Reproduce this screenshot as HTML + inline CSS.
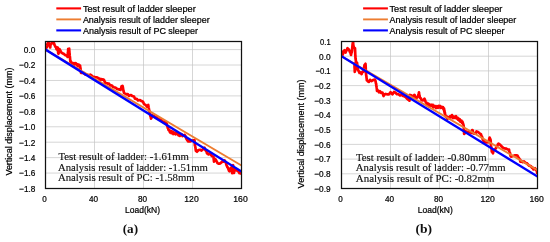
<!DOCTYPE html>
<html><head><meta charset="utf-8"><title>Figure</title>
<style>html,body{margin:0;padding:0;background:#fff}svg{display:block}</style></head>
<body>
<svg width="550" height="242" viewBox="0 0 550 242">
<rect width="550" height="242" fill="#fff"/>
<line x1="45.5" y1="49.60" x2="241.5" y2="49.60" stroke="#c4c4c4" stroke-width="0.7"/>
<line x1="45.5" y1="65.03" x2="241.5" y2="65.03" stroke="#c4c4c4" stroke-width="0.7"/>
<line x1="45.5" y1="80.47" x2="241.5" y2="80.47" stroke="#c4c4c4" stroke-width="0.7"/>
<line x1="45.5" y1="95.90" x2="241.5" y2="95.90" stroke="#c4c4c4" stroke-width="0.7"/>
<line x1="45.5" y1="111.33" x2="241.5" y2="111.33" stroke="#c4c4c4" stroke-width="0.7"/>
<line x1="45.5" y1="126.77" x2="241.5" y2="126.77" stroke="#c4c4c4" stroke-width="0.7"/>
<line x1="45.5" y1="142.20" x2="241.5" y2="142.20" stroke="#c4c4c4" stroke-width="0.7"/>
<line x1="45.5" y1="157.63" x2="241.5" y2="157.63" stroke="#c4c4c4" stroke-width="0.7"/>
<line x1="45.5" y1="173.07" x2="241.5" y2="173.07" stroke="#c4c4c4" stroke-width="0.7"/>
<line x1="94.50" y1="41.5" x2="94.50" y2="188.5" stroke="#c4c4c4" stroke-width="0.7"/>
<line x1="143.50" y1="41.5" x2="143.50" y2="188.5" stroke="#c4c4c4" stroke-width="0.7"/>
<line x1="192.50" y1="41.5" x2="192.50" y2="188.5" stroke="#c4c4c4" stroke-width="0.7"/>
<text x="58.5" y="160" style="font-family:'Liberation Serif','Times New Roman',serif;font-size:11.2px;stroke:#111;stroke-width:0.15px" fill="#111" textLength="130.4" lengthAdjust="spacingAndGlyphs">Test result of ladder: -1.61mm</text>
<text x="57.9" y="170.5" style="font-family:'Liberation Serif','Times New Roman',serif;font-size:11.2px;stroke:#111;stroke-width:0.15px" fill="#111" textLength="150.0" lengthAdjust="spacingAndGlyphs">Analysis result of ladder: -1.51mm</text>
<text x="57.9" y="181.2" style="font-family:'Liberation Serif','Times New Roman',serif;font-size:11.2px;stroke:#111;stroke-width:0.15px" fill="#111" textLength="136.8" lengthAdjust="spacingAndGlyphs">Analysis result of PC: -1.58mm</text>
<clipPath id="clipa"><rect x="45.5" y="41.5" width="196.0" height="147.0"/></clipPath><g clip-path="url(#clipa)">
<polyline points="45.60,49.50 46.50,47.38 46.83,47.26 47.17,45.78 47.50,43.58 48.50,42.49 49.00,43.66 49.50,45.26 50.20,47.49 50.47,45.14 50.73,43.86 51.00,44.07 52.50,41.89 53.50,43.45 54.00,43.15 54.50,44.91 55.50,46.88 56.00,47.04 56.50,49.26 57.50,47.68 57.67,47.54 57.83,48.86 58.00,51.07 58.25,53.25 58.50,53.80 58.75,52.39 59.00,51.62 59.25,49.82 59.50,49.03 60.50,50.89 61.00,51.99 61.50,52.55 63.00,53.54 64.00,54.02 65.00,54.93 66.50,55.64 67.50,56.69 67.60,56.93 67.70,55.31 67.80,54.31 67.90,52.39 68.00,52.62 68.10,51.25 68.20,48.86 69.20,48.72 69.30,50.54 69.40,51.69 69.50,53.24 69.60,53.53 69.70,55.39 69.80,56.29 69.94,56.87 70.08,58.55 70.22,60.25 70.36,61.39 70.50,62.01 71.00,61.67 71.50,63.54 72.00,62.85 72.50,64.94 73.33,63.26 74.17,64.62 75.00,63.19 76.00,63.36 77.00,65.38 77.50,64.28 78.00,66.26 78.50,65.21 79.25,64.82 80.00,66.30 80.10,65.47 80.20,67.68 80.30,67.06 80.40,68.85 80.50,68.11 80.67,71.15 80.83,71.83 81.00,72.82 82.50,72.59 84.00,73.30 85.33,74.62 86.67,74.76 88.00,74.87 89.17,75.58 90.33,74.68 91.50,75.32 92.75,76.82 94.00,76.93 95.50,77.23 97.00,77.41 99.00,78.38 100.00,79.83 101.00,78.96 102.00,79.78 103.00,79.34 104.00,79.96 104.50,81.21 105.00,82.83 106.00,82.83 107.00,83.40 108.00,83.67 109.00,83.55 110.00,85.43 111.00,85.42 112.00,85.54 113.00,86.81 114.00,87.27 115.00,87.56 116.00,88.04 117.00,88.87 119.00,89.51 120.50,89.99 121.00,88.48 121.50,86.50 122.50,85.84 122.83,87.08 123.17,89.11 123.50,90.91 124.00,92.81 125.25,93.56 126.50,94.34 127.75,94.13 129.00,95.88 130.50,95.09 131.25,95.09 132.00,95.98 134.00,96.47 135.00,98.73 136.00,98.87 137.00,99.14 138.00,100.51 140.00,100.04 141.50,101.07 143.00,101.72 143.75,103.60 144.50,104.24 145.75,105.16 147.00,106.66 148.20,104.92 148.40,105.95 148.60,107.46 148.80,107.94 149.00,109.81 149.33,111.20 149.67,112.14 150.00,113.33 150.25,115.80 150.50,116.27 150.75,116.88 151.00,118.68 151.50,117.79 152.00,115.19 153.33,115.68 154.67,116.40 156.00,117.87 157.00,117.42 158.00,118.85 159.00,119.30 160.00,119.58 161.00,119.53 162.00,121.31 163.00,121.51 164.00,121.53 165.25,121.78 166.50,123.25 166.83,124.15 167.17,125.80 167.50,126.70 167.83,128.36 168.17,128.52 168.50,130.06 169.25,129.77 170.00,132.48 170.67,130.98 171.33,133.14 172.00,131.65 172.67,131.62 173.33,134.07 174.00,132.59 174.83,132.85 175.67,134.31 176.50,132.82 177.50,133.55 178.50,135.45 179.17,133.61 179.83,135.97 180.50,134.73 181.50,134.13 182.50,136.13 184.50,134.85 185.00,135.52 185.50,136.29 186.00,137.74 186.50,139.00 188.00,141.30 189.00,141.39 190.00,141.48 192.00,140.83 193.50,140.28 194.50,140.15 194.60,141.60 194.70,142.40 194.80,144.43 194.90,145.58 195.00,145.18 195.25,146.62 195.50,147.96 195.75,150.20 196.00,150.98 197.00,151.73 198.50,150.01 200.00,149.80 201.50,150.57 203.00,149.23 204.50,147.73 205.25,149.90 206.00,150.82 206.50,151.47 207.00,153.33 207.50,153.05 208.50,154.38 209.50,153.79 210.75,154.44 212.00,156.20 213.50,156.51 213.67,158.77 213.83,159.84 214.00,161.58 215.50,159.28 216.00,160.23 216.50,161.15 217.50,163.12 218.50,163.68 219.50,163.77 220.50,163.16 222.50,161.38 223.50,161.59 224.50,160.33 225.17,161.38 225.83,162.61 226.50,165.12 227.00,166.16 227.50,167.39 228.00,167.73 228.50,169.36 229.00,170.81 229.50,171.29 230.00,170.37 230.50,168.53 231.50,167.29 231.68,168.73 231.85,170.91 232.02,171.48 232.20,173.22 232.33,171.18 232.47,169.62 232.60,169.24 232.73,168.06 232.87,165.42 233.00,165.29 233.14,165.45 233.29,166.63 233.43,169.08 233.57,168.79 233.71,170.27 233.86,172.69 234.00,172.87 234.33,171.01 234.67,169.77 235.00,168.56 236.50,170.41 238.00,170.82 239.50,173.20 240.50,172.79 241.50,174.30" fill="none" stroke="#ff0000" stroke-width="2.7" stroke-linejoin="round"/>
<line x1="45.5" y1="49.6" x2="241.5" y2="165.5" stroke="#ed7d31" stroke-width="1.9"/>
<line x1="45.5" y1="49.6" x2="241.5" y2="171.5" stroke="#0000ff" stroke-width="2.4"/></g>
<rect x="45.5" y="41.5" width="196.0" height="147.0" fill="none" stroke="#111" stroke-width="1.25"/>
<text x="35.4" y="52.90" text-anchor="end" style="font-family:'Liberation Sans',Arial,sans-serif;font-size:9px;stroke:#000;stroke-width:0.22px" fill="#000" textLength="11.6" lengthAdjust="spacingAndGlyphs">0.0</text>
<text x="35.4" y="68.33" text-anchor="end" style="font-family:'Liberation Sans',Arial,sans-serif;font-size:9px;stroke:#000;stroke-width:0.22px" fill="#000" textLength="16.3" lengthAdjust="spacingAndGlyphs">−0.2</text>
<text x="35.4" y="83.77" text-anchor="end" style="font-family:'Liberation Sans',Arial,sans-serif;font-size:9px;stroke:#000;stroke-width:0.22px" fill="#000" textLength="16.3" lengthAdjust="spacingAndGlyphs">−0.4</text>
<text x="35.4" y="99.20" text-anchor="end" style="font-family:'Liberation Sans',Arial,sans-serif;font-size:9px;stroke:#000;stroke-width:0.22px" fill="#000" textLength="16.3" lengthAdjust="spacingAndGlyphs">−0.6</text>
<text x="35.4" y="114.63" text-anchor="end" style="font-family:'Liberation Sans',Arial,sans-serif;font-size:9px;stroke:#000;stroke-width:0.22px" fill="#000" textLength="16.3" lengthAdjust="spacingAndGlyphs">−0.8</text>
<text x="35.4" y="130.07" text-anchor="end" style="font-family:'Liberation Sans',Arial,sans-serif;font-size:9px;stroke:#000;stroke-width:0.22px" fill="#000" textLength="16.3" lengthAdjust="spacingAndGlyphs">−1.0</text>
<text x="35.4" y="145.50" text-anchor="end" style="font-family:'Liberation Sans',Arial,sans-serif;font-size:9px;stroke:#000;stroke-width:0.22px" fill="#000" textLength="16.3" lengthAdjust="spacingAndGlyphs">−1.2</text>
<text x="35.4" y="160.93" text-anchor="end" style="font-family:'Liberation Sans',Arial,sans-serif;font-size:9px;stroke:#000;stroke-width:0.22px" fill="#000" textLength="16.3" lengthAdjust="spacingAndGlyphs">−1.4</text>
<text x="35.4" y="176.37" text-anchor="end" style="font-family:'Liberation Sans',Arial,sans-serif;font-size:9px;stroke:#000;stroke-width:0.22px" fill="#000" textLength="16.3" lengthAdjust="spacingAndGlyphs">−1.6</text>
<text x="35.4" y="191.80" text-anchor="end" style="font-family:'Liberation Sans',Arial,sans-serif;font-size:9px;stroke:#000;stroke-width:0.22px" fill="#000" textLength="16.3" lengthAdjust="spacingAndGlyphs">−1.8</text>
<text x="44.50" y="202.4" text-anchor="middle" style="font-family:'Liberation Sans',Arial,sans-serif;font-size:9px;stroke:#000;stroke-width:0.22px" fill="#000" textLength="4.5" lengthAdjust="spacingAndGlyphs">0</text>
<text x="93.50" y="202.4" text-anchor="middle" style="font-family:'Liberation Sans',Arial,sans-serif;font-size:9px;stroke:#000;stroke-width:0.22px" fill="#000" textLength="9.1" lengthAdjust="spacingAndGlyphs">40</text>
<text x="142.50" y="202.4" text-anchor="middle" style="font-family:'Liberation Sans',Arial,sans-serif;font-size:9px;stroke:#000;stroke-width:0.22px" fill="#000" textLength="9.1" lengthAdjust="spacingAndGlyphs">80</text>
<text x="191.50" y="202.4" text-anchor="middle" style="font-family:'Liberation Sans',Arial,sans-serif;font-size:9px;stroke:#000;stroke-width:0.22px" fill="#000" textLength="14.4" lengthAdjust="spacingAndGlyphs">120</text>
<text x="240.50" y="202.4" text-anchor="middle" style="font-family:'Liberation Sans',Arial,sans-serif;font-size:9px;stroke:#000;stroke-width:0.22px" fill="#000" textLength="14.4" lengthAdjust="spacingAndGlyphs">160</text>
<text x="142.5" y="213.2" text-anchor="middle" style="font-family:'Liberation Sans',Arial,sans-serif;font-size:9px;stroke:#000;stroke-width:0.22px" fill="#000" textLength="35" lengthAdjust="spacingAndGlyphs">Load(kN)</text>
<text transform="translate(11.6,121.6) rotate(-90)" text-anchor="middle" style="font-family:'Liberation Sans',Arial,sans-serif;font-size:9px;stroke:#000;stroke-width:0.22px" fill="#000" textLength="108" lengthAdjust="spacingAndGlyphs">Vertical displacement (mm)</text>
<line x1="56.3" y1="8.4" x2="81.1" y2="8.4" stroke="#ff0000" stroke-width="2.1"/>
<text x="82.9" y="11.60" style="font-family:'Liberation Sans',Arial,sans-serif;font-size:9px;stroke:#000;stroke-width:0.22px" fill="#000" textLength="112.8" lengthAdjust="spacingAndGlyphs">Test result of ladder sleeper</text>
<line x1="56.3" y1="19.4" x2="81.1" y2="19.4" stroke="#ed7d31" stroke-width="1.9"/>
<text x="82.9" y="22.60" style="font-family:'Liberation Sans',Arial,sans-serif;font-size:9px;stroke:#000;stroke-width:0.22px" fill="#000" textLength="126.8" lengthAdjust="spacingAndGlyphs">Analysis result of ladder sleeper</text>
<line x1="56.3" y1="30.4" x2="81.1" y2="30.4" stroke="#0000ff" stroke-width="2.1"/>
<text x="82.9" y="33.60" style="font-family:'Liberation Sans',Arial,sans-serif;font-size:9px;stroke:#000;stroke-width:0.22px" fill="#000" textLength="115.0" lengthAdjust="spacingAndGlyphs">Analysis result of PC sleeper</text>
<text x="122.70" y="233" style="font-family:'Liberation Serif',serif;font-size:13px;font-weight:bold" fill="#111" textLength="15.4" lengthAdjust="spacingAndGlyphs">(a)</text>
<line x1="341.5" y1="56.20" x2="537.5" y2="56.20" stroke="#c4c4c4" stroke-width="0.7"/>
<line x1="341.5" y1="70.90" x2="537.5" y2="70.90" stroke="#c4c4c4" stroke-width="0.7"/>
<line x1="341.5" y1="85.60" x2="537.5" y2="85.60" stroke="#c4c4c4" stroke-width="0.7"/>
<line x1="341.5" y1="100.30" x2="537.5" y2="100.30" stroke="#c4c4c4" stroke-width="0.7"/>
<line x1="341.5" y1="115.00" x2="537.5" y2="115.00" stroke="#c4c4c4" stroke-width="0.7"/>
<line x1="341.5" y1="129.70" x2="537.5" y2="129.70" stroke="#c4c4c4" stroke-width="0.7"/>
<line x1="341.5" y1="144.40" x2="537.5" y2="144.40" stroke="#c4c4c4" stroke-width="0.7"/>
<line x1="341.5" y1="159.10" x2="537.5" y2="159.10" stroke="#c4c4c4" stroke-width="0.7"/>
<line x1="341.5" y1="173.80" x2="537.5" y2="173.80" stroke="#c4c4c4" stroke-width="0.7"/>
<line x1="390.50" y1="41.5" x2="390.50" y2="188.5" stroke="#c4c4c4" stroke-width="0.7"/>
<line x1="439.50" y1="41.5" x2="439.50" y2="188.5" stroke="#c4c4c4" stroke-width="0.7"/>
<line x1="488.50" y1="41.5" x2="488.50" y2="188.5" stroke="#c4c4c4" stroke-width="0.7"/>
<text x="355.9" y="160.5" style="font-family:'Liberation Serif','Times New Roman',serif;font-size:11.2px;stroke:#111;stroke-width:0.15px" fill="#111" textLength="130.8" lengthAdjust="spacingAndGlyphs">Test result of ladder: -0.80mm</text>
<text x="355.8" y="171.3" style="font-family:'Liberation Serif','Times New Roman',serif;font-size:11.2px;stroke:#111;stroke-width:0.15px" fill="#111" textLength="149.8" lengthAdjust="spacingAndGlyphs">Analysis result of ladder: -0.77mm</text>
<text x="355.8" y="182" style="font-family:'Liberation Serif','Times New Roman',serif;font-size:11.2px;stroke:#111;stroke-width:0.15px" fill="#111" textLength="138.6" lengthAdjust="spacingAndGlyphs">Analysis result of PC: -0.82mm</text>
<clipPath id="clipb"><rect x="341.5" y="41.5" width="196.0" height="147.0"/></clipPath><g clip-path="url(#clipb)">
<polyline points="342.00,55.50 342.47,55.11 342.93,53.93 343.40,51.25 344.50,50.29 345.50,52.57 346.17,51.23 346.83,49.96 347.50,48.17 349.00,49.68 349.50,50.93 350.00,52.14 350.50,52.92 351.00,54.88 351.25,53.57 351.50,52.88 351.75,52.09 352.00,50.76 352.14,48.93 352.29,47.62 352.43,46.18 352.57,44.64 352.71,43.48 352.86,43.08 353.00,41.69 353.16,43.00 353.32,45.07 353.48,45.64 353.64,46.90 353.80,47.55 355.00,48.19 355.06,49.83 355.12,50.63 355.19,52.39 355.25,54.35 355.31,54.92 355.38,55.21 355.44,57.54 355.50,58.50 355.75,59.90 356.00,61.69 355.50,62.78 355.00,64.16 354.50,64.75 354.56,67.12 354.62,68.39 354.68,68.32 354.74,70.63 354.80,71.87 355.04,70.33 355.28,69.35 355.52,68.18 355.76,67.82 356.00,66.00 356.33,65.23 356.67,63.09 357.00,62.65 357.11,63.82 357.23,64.22 357.34,65.54 357.46,67.29 357.57,68.09 357.69,68.83 357.80,69.53 358.65,70.95 359.50,72.84 360.50,72.43 361.50,74.19 362.50,71.86 363.50,71.70 363.70,69.48 363.90,69.38 364.10,67.75 364.30,66.21 364.50,65.03 365.50,63.76 365.56,64.84 365.62,65.56 365.69,66.57 365.75,68.27 365.81,70.18 365.88,70.83 365.94,71.09 366.00,73.54 366.13,74.55 366.27,76.03 366.40,75.98 366.53,78.08 366.67,78.08 366.80,80.26 367.40,80.61 368.00,81.54 369.00,81.89 370.00,79.83 371.50,81.04 373.00,80.10 375.00,79.57 375.50,81.01 376.00,83.65 376.17,84.20 376.33,86.04 376.50,86.20 376.67,87.93 376.83,88.78 377.00,90.79 378.00,90.29 379.00,92.27 380.00,91.19 381.00,92.89 382.50,92.69 383.00,94.08 383.50,96.03 384.50,94.42 385.50,93.96 387.50,94.33 389.00,94.31 390.50,92.22 392.50,94.33 394.00,91.91 395.50,92.71 397.00,94.24 398.50,94.20 400.00,95.41 402.00,94.84 403.00,95.97 404.00,96.20 406.00,97.41 407.00,98.70 408.00,99.41 409.50,100.68 409.62,99.18 409.75,98.12 409.88,96.60 410.00,94.95 411.25,95.28 412.50,96.77 413.50,95.69 414.50,94.82 415.25,96.66 416.00,98.64 417.50,96.87 417.88,96.52 418.25,95.07 418.62,94.15 419.00,92.39 419.25,95.03 419.50,95.09 419.75,96.93 420.00,97.86 420.75,98.18 421.50,100.10 423.00,100.39 424.50,98.75 425.00,99.97 425.50,101.46 426.00,102.61 426.67,102.78 427.33,105.24 428.00,103.56 428.67,103.92 429.33,106.71 430.00,105.03 431.00,104.65 432.00,106.08 432.67,104.81 433.33,107.32 434.00,105.67 435.00,105.98 436.00,108.09 437.00,106.16 438.00,107.75 438.75,105.92 439.50,106.95 440.00,105.92 440.50,107.99 441.00,106.72 441.75,106.77 442.50,107.99 443.00,107.23 443.50,109.40 444.00,108.54 444.16,109.09 444.32,111.70 444.48,110.70 444.64,113.29 444.80,112.24 445.20,114.92 445.60,116.25 446.00,117.09 446.67,116.34 447.33,118.61 448.00,117.25 448.67,117.24 449.33,118.38 450.00,116.28 450.67,116.16 451.33,117.19 452.00,115.12 452.50,115.88 453.00,118.11 453.50,116.55 454.25,116.48 455.00,117.97 456.00,116.26 457.00,118.52 457.50,117.59 458.00,119.71 458.50,118.54 459.00,120.48 459.67,119.10 460.33,121.70 461.00,120.59 461.50,120.83 462.00,123.05 462.50,121.81 463.00,123.35 463.50,125.15 463.65,125.78 463.80,127.63 463.88,129.08 463.96,131.34 464.04,131.18 464.12,133.63 464.20,133.98 464.85,133.12 465.50,131.32 466.75,131.69 468.00,132.43 470.00,132.32 471.50,132.86 471.83,131.52 472.17,130.12 472.50,130.10 472.83,130.91 473.17,132.61 473.50,133.33 475.00,133.69 475.50,133.60 476.00,132.64 476.50,131.38 478.00,132.00 479.50,133.26 481.00,134.43 481.50,136.26 482.00,136.61 482.50,138.54 483.00,139.96 484.50,142.27 486.50,142.52 488.50,142.23 488.87,140.90 489.23,138.82 489.60,137.54 490.50,139.48 490.62,140.34 490.73,141.88 490.85,143.55 490.97,145.21 491.08,145.90 491.20,147.54 491.40,147.56 491.60,149.26 491.80,151.60 492.00,151.40 493.00,153.36 493.33,151.43 493.67,150.13 494.00,150.17 495.50,148.83 497.00,146.75 497.75,144.62 498.50,143.65 500.00,144.54 501.50,146.29 503.00,147.81 504.50,148.40 506.00,148.54 507.50,149.34 509.00,149.57 509.33,151.60 509.67,152.60 510.00,152.81 510.33,154.69 510.67,156.20 511.00,156.59 512.50,156.17 514.50,155.43 516.50,155.35 517.50,155.59 518.50,157.34 519.00,158.15 519.50,158.96 520.00,159.40 520.25,161.15 520.50,161.70 521.50,161.16 522.75,162.15 524.00,161.46 525.00,162.52 526.00,162.97 527.00,163.34 528.00,164.52 529.00,165.58 530.00,165.85 531.00,166.20 532.00,167.79 532.75,167.71 533.50,169.42 535.00,168.27 535.75,169.44 536.50,170.60 536.83,170.87 537.17,172.87 537.50,173.83" fill="none" stroke="#ff0000" stroke-width="2.7" stroke-linejoin="round"/>
<line x1="341.5" y1="56.2" x2="537.5" y2="170.2" stroke="#ed7d31" stroke-width="1.9"/>
<line x1="341.5" y1="56.2" x2="537.5" y2="176.6" stroke="#0000ff" stroke-width="2.4"/></g>
<rect x="341.5" y="41.5" width="196.0" height="147.0" fill="none" stroke="#111" stroke-width="1.25"/>
<text x="330.6" y="44.80" text-anchor="end" style="font-family:'Liberation Sans',Arial,sans-serif;font-size:9px;stroke:#000;stroke-width:0.22px" fill="#000" textLength="10.5" lengthAdjust="spacingAndGlyphs">0.1</text>
<text x="330.6" y="59.50" text-anchor="end" style="font-family:'Liberation Sans',Arial,sans-serif;font-size:9px;stroke:#000;stroke-width:0.22px" fill="#000" textLength="11.6" lengthAdjust="spacingAndGlyphs">0.0</text>
<text x="330.6" y="74.20" text-anchor="end" style="font-family:'Liberation Sans',Arial,sans-serif;font-size:9px;stroke:#000;stroke-width:0.22px" fill="#000" textLength="15.2" lengthAdjust="spacingAndGlyphs">−0.1</text>
<text x="330.6" y="88.90" text-anchor="end" style="font-family:'Liberation Sans',Arial,sans-serif;font-size:9px;stroke:#000;stroke-width:0.22px" fill="#000" textLength="16.3" lengthAdjust="spacingAndGlyphs">−0.2</text>
<text x="330.6" y="103.60" text-anchor="end" style="font-family:'Liberation Sans',Arial,sans-serif;font-size:9px;stroke:#000;stroke-width:0.22px" fill="#000" textLength="16.3" lengthAdjust="spacingAndGlyphs">−0.3</text>
<text x="330.6" y="118.30" text-anchor="end" style="font-family:'Liberation Sans',Arial,sans-serif;font-size:9px;stroke:#000;stroke-width:0.22px" fill="#000" textLength="16.3" lengthAdjust="spacingAndGlyphs">−0.4</text>
<text x="330.6" y="133.00" text-anchor="end" style="font-family:'Liberation Sans',Arial,sans-serif;font-size:9px;stroke:#000;stroke-width:0.22px" fill="#000" textLength="16.3" lengthAdjust="spacingAndGlyphs">−0.5</text>
<text x="330.6" y="147.70" text-anchor="end" style="font-family:'Liberation Sans',Arial,sans-serif;font-size:9px;stroke:#000;stroke-width:0.22px" fill="#000" textLength="16.3" lengthAdjust="spacingAndGlyphs">−0.6</text>
<text x="330.6" y="162.40" text-anchor="end" style="font-family:'Liberation Sans',Arial,sans-serif;font-size:9px;stroke:#000;stroke-width:0.22px" fill="#000" textLength="16.3" lengthAdjust="spacingAndGlyphs">−0.7</text>
<text x="330.6" y="177.10" text-anchor="end" style="font-family:'Liberation Sans',Arial,sans-serif;font-size:9px;stroke:#000;stroke-width:0.22px" fill="#000" textLength="16.3" lengthAdjust="spacingAndGlyphs">−0.8</text>
<text x="330.6" y="191.80" text-anchor="end" style="font-family:'Liberation Sans',Arial,sans-serif;font-size:9px;stroke:#000;stroke-width:0.22px" fill="#000" textLength="16.3" lengthAdjust="spacingAndGlyphs">−0.9</text>
<text x="340.60" y="202.4" text-anchor="middle" style="font-family:'Liberation Sans',Arial,sans-serif;font-size:9px;stroke:#000;stroke-width:0.22px" fill="#000" textLength="4.5" lengthAdjust="spacingAndGlyphs">0</text>
<text x="389.60" y="202.4" text-anchor="middle" style="font-family:'Liberation Sans',Arial,sans-serif;font-size:9px;stroke:#000;stroke-width:0.22px" fill="#000" textLength="9.1" lengthAdjust="spacingAndGlyphs">40</text>
<text x="438.60" y="202.4" text-anchor="middle" style="font-family:'Liberation Sans',Arial,sans-serif;font-size:9px;stroke:#000;stroke-width:0.22px" fill="#000" textLength="9.1" lengthAdjust="spacingAndGlyphs">80</text>
<text x="487.60" y="202.4" text-anchor="middle" style="font-family:'Liberation Sans',Arial,sans-serif;font-size:9px;stroke:#000;stroke-width:0.22px" fill="#000" textLength="14.4" lengthAdjust="spacingAndGlyphs">120</text>
<text x="536.60" y="202.4" text-anchor="middle" style="font-family:'Liberation Sans',Arial,sans-serif;font-size:9px;stroke:#000;stroke-width:0.22px" fill="#000" textLength="14.4" lengthAdjust="spacingAndGlyphs">160</text>
<text x="435.3" y="213.2" text-anchor="middle" style="font-family:'Liberation Sans',Arial,sans-serif;font-size:9px;stroke:#000;stroke-width:0.22px" fill="#000" textLength="35" lengthAdjust="spacingAndGlyphs">Load(kN)</text>
<text transform="translate(304.3,133.9) rotate(-90)" text-anchor="middle" style="font-family:'Liberation Sans',Arial,sans-serif;font-size:9px;stroke:#000;stroke-width:0.22px" fill="#000" textLength="109" lengthAdjust="spacingAndGlyphs">Vertical displacement (mm)</text>
<line x1="363.1" y1="8.4" x2="387.90000000000003" y2="8.4" stroke="#ff0000" stroke-width="2.1"/>
<text x="389.5" y="11.60" style="font-family:'Liberation Sans',Arial,sans-serif;font-size:9px;stroke:#000;stroke-width:0.22px" fill="#000" textLength="112.8" lengthAdjust="spacingAndGlyphs">Test result of ladder sleeper</text>
<line x1="363.1" y1="19.4" x2="387.90000000000003" y2="19.4" stroke="#ed7d31" stroke-width="1.9"/>
<text x="389.5" y="22.60" style="font-family:'Liberation Sans',Arial,sans-serif;font-size:9px;stroke:#000;stroke-width:0.22px" fill="#000" textLength="126.8" lengthAdjust="spacingAndGlyphs">Analysis result of ladder sleeper</text>
<line x1="363.1" y1="30.4" x2="387.90000000000003" y2="30.4" stroke="#0000ff" stroke-width="2.1"/>
<text x="389.5" y="33.60" style="font-family:'Liberation Sans',Arial,sans-serif;font-size:9px;stroke:#000;stroke-width:0.22px" fill="#000" textLength="115.0" lengthAdjust="spacingAndGlyphs">Analysis result of PC sleeper</text>
<text x="415.50" y="233" style="font-family:'Liberation Serif',serif;font-size:13px;font-weight:bold" fill="#111" textLength="16.6" lengthAdjust="spacingAndGlyphs">(b)</text>
</svg>
</body></html>
